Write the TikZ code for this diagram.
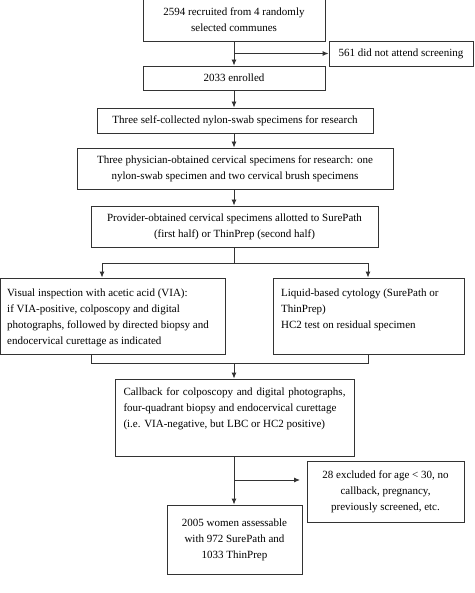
\documentclass[tikz,border=0pt]{standalone}
\usepackage{fontspec}
\setmainfont{Liberation Serif}
\usetikzlibrary{arrows.meta}
\definecolor{ln}{HTML}{333333}
\tikzset{
  box/.style={draw=ln, line width=0.9pt, rectangle, inner sep=0pt, align=center,
    font=\fontsize{11}{16}\selectfont},
  txt/.style={inner sep=0pt, font=\fontsize{11}{16}\selectfont},
  conn/.style={draw=ln, line width=0.9pt},
  arr/.style={conn, -{Latex[length=6pt,width=5pt]}},
}
\begin{document}
\begin{tikzpicture}[x=1pt,y=-1pt]
\useasboundingbox (0,0) rectangle (474,593);
\begin{scope}
\clip (0,0) rectangle (474,593);
\node[box, minimum width=182pt, minimum height=43pt] (b1) at (234,19.5) {2594 recruited from 4 randomly\\selected communes};
\node[box, minimum width=144pt, minimum height=25pt] (b561) at (401,53.5) {561 did not attend screening};
\node[box, minimum width=182pt, minimum height=24pt] (b2) at (234,78) {2033 enrolled};
\node[box, minimum width=276pt, minimum height=25pt] (b3) at (235,120.5) {Three self-collected nylon-swab specimens for research};
\node[box, minimum width=316pt, minimum height=41pt] (b4) at (235,168.5) {Three physician-obtained cervical specimens for research: one\\nylon-swab specimen and two cervical brush specimens};
\node[box, minimum width=287pt, minimum height=41pt] (b5) at (234.5,226.5) {Provider-obtained cervical specimens allotted to SurePath\\(first half) or ThinPrep (second half)};
\node[box, minimum width=224.5pt, minimum height=76pt] (b6) at (112.75,316) {};
\node[txt, anchor=north west, align=left] at (7,289) {Visual inspection with acetic acid (VIA):\\if VIA-positive, colposcopy and digital\\photographs, followed by directed biopsy and\\endocervical curettage as indicated};
\node[box, minimum width=191pt, minimum height=76pt] (b7) at (368.5,316) {};
\node[txt, anchor=north west, align=left] at (281,289) {Liquid-based cytology (SurePath or\\ThinPrep)\\HC2 test on residual specimen};
\node[box, minimum width=239pt, minimum height=77pt] (b8) at (234.5,417.5) {};
\node[txt, anchor=north, align=justify, text width=222pt] at (234.5,388) {Callback for colposcopy and digital photographs, four-quadrant biopsy and endocervical curettage\\(i.e. VIA-negative, but LBC or HC2 positive)};
\node[box, minimum width=157pt, minimum height=61pt] (b9) at (385.5,491.5) {28 excluded for age < 30, no\\callback, pregnancy,\\previously screened, etc.};
\node[box, minimum width=135pt, minimum height=69pt] (b10) at (234.5,539.5) {2005 women assessable\\with 972 SurePath and\\1033 ThinPrep};
\end{scope}
% connectors
\draw[arr] (b1.south -| 234,0) -- (b2.north -| 234,0);
\coordinate (j1) at (234,53.5);
\draw[arr] (j1) -- (b561.west);
\draw[arr] (b2.south -| 234,0) -- (b3.north -| 234,0);
\draw[arr] (b3.south -| 234,0) -- (b4.north -| 234,0);
\draw[arr] (b4.south -| 234,0) -- (b5.north -| 234,0);
\coordinate (s0) at (234,263);
\coordinate (sl) at (102,263);
\coordinate (sr) at (368,263);
\draw[conn] (b5.south -| 234,0) -- (s0);
\draw[conn] (sl) -- (sr);
\draw[arr] (sl) -- (sl |- b6.north);
\draw[arr] (sr) -- (sr |- b7.north);
\coordinate (ml) at (91,363);
\coordinate (mr) at (368,363);
\coordinate (m0) at (234,363);
\draw[conn] (ml |- b6.south) -- (ml) -- (mr) -- (mr |- b7.south);
\draw[arr] (m0) -- (m0 |- b8.north);
\draw[arr] (b8.south -| 234,0) -- (b10.north -| 234,0);
\coordinate (j2) at (234,480);
\coordinate (e2) at (300,480);
\draw[arr] (j2) -- (e2);
\end{tikzpicture}
\end{document}
